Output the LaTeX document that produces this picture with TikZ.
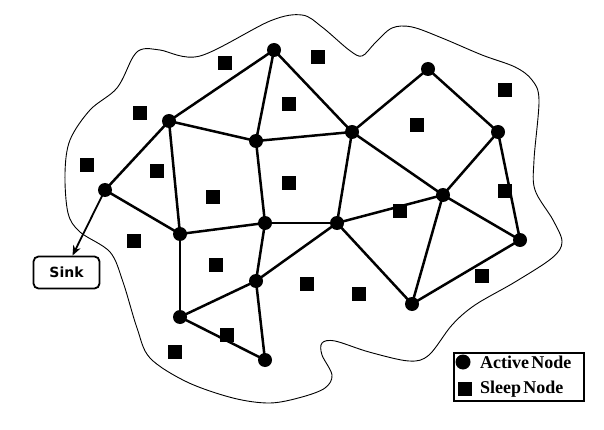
\documentclass[tikz,border=0pt]{standalone}
\usepackage{fontspec}
\setmainfont{Liberation Serif}
\newfontfamily\sinkfont{DejaVu Sans}
\usetikzlibrary{arrows.meta}
\begin{document}
\begin{tikzpicture}[x=1pt,y=-1pt,
  active/.style={circle,fill=black,inner sep=0pt,minimum size=14pt},
  sleep/.style={rectangle,fill=black,inner sep=0pt,minimum size=14pt},
  link/.style={line width=2.5pt}]
\useasboundingbox (0,0) rectangle (604,430);
% field outline
\draw[line width=0.9pt] plot[smooth cycle, tension=0.55] coordinates {
 (302,15) (270,21) (200,56) (160,50) (143,49) (133,57) (117,88) (90,110) (70,140) (65,173) (68,213)
 (80,232) (110,252) (123,282) (137,328) (150,358) (187,382) (233,398) (270,403) (302,397)
 (325,388) (332,375) (322,355) (322,343) (335,341) (369,352) (409,361) (429,355) (452,325)
 (475,305) (515,282) (552,258) (562,242) (553,220) (535,190) (534,160) (539,100) (532,80)
 (515,67) (482,55) (442,38) (412,27) (392,28) (375,43) (362,56) (349,50) (322,27)};
% sleep nodes
\foreach \x/\y [count=\i] in {225/63,318/57,140/113,289/104,505/90,417/125,87/165,157/171,213/197,289/183,505/191,400/211,134/241,216/265,307/284,359/294,482/276,227/335,175/352}
  \node[sleep] (s\i) at (\x,\y) {};
% active nodes
\node[active] (a1) at (274,50) {};
\node[active] (a2) at (169,121) {};
\node[active] (a3) at (256,141) {};
\node[active] (a4) at (352,132) {};
\node[active] (a5) at (428,69) {};
\node[active] (a6) at (498,132) {};
\node[active] (a7) at (105,190) {};
\node[active] (a8) at (443,195) {};
\node[active] (a9) at (180,234) {};
\node[active] (a10) at (265,223) {};
\node[active] (a11) at (337,223) {};
\node[active] (a12) at (520,240) {};
\node[active] (a13) at (256,281) {};
\node[active] (a14) at (180,317) {};
\node[active] (a15) at (265,360) {};
\node[active] (a16) at (412,304) {};
% links
\foreach \u/\v in {a1/a2,a1/a3,a1/a4,a2/a3,a2/a7,a2/a9,a3/a4,a3/a10,a4/a5,a4/a8,a4/a11,a5/a6,a6/a8,a6/a12,a7/a9,a9/a10,a10/a11,a10/a13,a11/a8,a11/a16,a11/a13,a8/a16,a8/a12,a12/a16,a13/a14,a13/a15,a14/a15,a14/a9}
  \draw[link] (\u.center) -- (\v.center);
% sink
\node[draw,line width=1.8pt,rounded corners=5pt,minimum width=66pt,minimum height=32pt,inner sep=0pt,font=\sinkfont\bfseries\fontsize{14}{16}\selectfont] (sink) at (66.5,272.5) {Sink};
\draw[line width=1.8pt,-{Stealth[length=10pt,width=8pt]}] (a7.center) -- ([xshift=6pt]sink.north);
% legend
\node[draw,line width=2pt,minimum width=130pt,minimum height=48pt,inner sep=0pt] (leg) at (519,377) {};
\node[active,minimum size=15pt] (lc) at (463,362) {};
\node[sleep] (ls) at (465,389) {};
\node[anchor=west,inner sep=0pt,font=\bfseries\fontsize{18}{20}\selectfont] (lt1) at (480,362) {Active\hspace{0.12em}Node};
\node[anchor=west,inner sep=0pt,font=\bfseries\fontsize{18}{20}\selectfont] (lt2) at (480,389) {Sleep\hspace{0.12em}Node};
\end{tikzpicture}
\end{document}
